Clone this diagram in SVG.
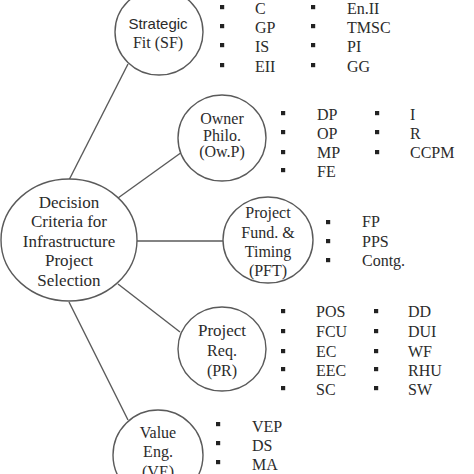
<svg xmlns="http://www.w3.org/2000/svg" width="474" height="474" viewBox="0 0 474 474">
<style>
.node ellipse{fill:#fff;stroke:#5a5a5a;stroke-width:1.4}
.lbl{font-family:"Liberation Serif","Times New Roman",serif;font-size:16px;fill:#2b2b2b;text-anchor:middle}
.big{font-size:17px}
.sans{font-family:"Liberation Sans",Arial,sans-serif;font-size:15px}
.it{font-family:"Liberation Serif","Times New Roman",serif;font-size:16px;fill:#2b2b2b}
.b{fill:#222}
#connectors line{stroke:#5a5a5a;stroke-width:1.4}
</style>
<defs>
<rect id="sq" x="-2" y="-2" width="4.2" height="4.2" class="b"/>
</defs>
<rect width="474" height="474" fill="#fff"/>
<g id="connectors">
<line x1="69" y1="180" x2="128" y2="64"/>
<line x1="118" y1="198" x2="182" y2="152"/>
<line x1="137" y1="241" x2="223" y2="241"/>
<line x1="118" y1="284" x2="180" y2="332"/>
<line x1="69" y1="302" x2="128" y2="420"/>
</g>
<g id="dc" class="node">
<ellipse cx="69" cy="240" rx="68" ry="61"/>
<text class="lbl big" x="69" y="208">Decision</text>
<text class="lbl big" x="69" y="227">Criteria for</text>
<text class="lbl big" x="69" y="246.5">Infrastructure</text>
<text class="lbl big" x="69" y="266">Project</text>
<text class="lbl big" x="69" y="285.5">Selection</text>
</g>
<g id="sf" class="node">
<ellipse cx="159" cy="32" rx="44" ry="43"/>
<text class="lbl sans" x="158" y="29">Strategic</text>
<text class="lbl" x="158" y="48">Fit (SF)</text>
</g>
<g id="sf-items">
<use href="#sq" x="222" y="7"/><text class="it" x="255" y="13.5">C</text>
<use href="#sq" x="222" y="26"/><text class="it" x="255" y="33">GP</text>
<use href="#sq" x="222" y="45"/><text class="it" x="255" y="52">IS</text>
<use href="#sq" x="222" y="65"/><text class="it" x="255" y="72">EII</text>
<use href="#sq" x="313" y="7"/><text class="it" x="347" y="13.5">En.II</text>
<use href="#sq" x="313" y="26"/><text class="it" x="347" y="33">TMSC</text>
<use href="#sq" x="313" y="45"/><text class="it" x="347" y="52">PI</text>
<use href="#sq" x="313" y="65"/><text class="it" x="347" y="72">GG</text>
</g>
<g id="owp" class="node">
<ellipse cx="222" cy="138" rx="44" ry="43"/>
<text class="lbl" x="222" y="123.5">Owner</text>
<text class="lbl" x="222" y="140.5">Philo.</text>
<text class="lbl" x="222" y="157">(Ow.P)</text>
</g>
<g id="owp-items">
<use href="#sq" x="283" y="113"/><text class="it" x="317" y="120">DP</text>
<use href="#sq" x="283" y="132"/><text class="it" x="317" y="139">OP</text>
<use href="#sq" x="283" y="152"/><text class="it" x="317" y="158">MP</text>
<use href="#sq" x="283" y="170"/><text class="it" x="317" y="177">FE</text>
<use href="#sq" x="377" y="113"/><text class="it" x="410" y="120">I</text>
<use href="#sq" x="377" y="132"/><text class="it" x="410" y="139">R</text>
<use href="#sq" x="377" y="152"/><text class="it" x="410" y="158">CCPM</text>
</g>
<g id="pft" class="node">
<ellipse cx="268" cy="240" rx="45" ry="43"/>
<text class="lbl" x="268" y="218">Project</text>
<text class="lbl" x="268" y="238">Fund. &amp;</text>
<text class="lbl" x="268" y="257">Timing</text>
<text class="lbl" x="268" y="276">(PFT)</text>
</g>
<g id="pft-items">
<use href="#sq" x="328" y="222"/><text class="it" x="362" y="227">FP</text>
<use href="#sq" x="328" y="241"/><text class="it" x="362" y="247">PPS</text>
<use href="#sq" x="328" y="260"/><text class="it" x="362" y="266">Contg.</text>
</g>
<g id="pr" class="node">
<ellipse cx="222" cy="349" rx="44" ry="42"/>
<text class="lbl big" x="222" y="336">Project</text>
<text class="lbl" x="222" y="356">Req.</text>
<text class="lbl" x="222" y="376">(PR)</text>
</g>
<g id="pr-items">
<use href="#sq" x="283" y="311"/><text class="it" x="316" y="317">POS</text>
<use href="#sq" x="283" y="331"/><text class="it" x="316" y="337">FCU</text>
<use href="#sq" x="283" y="351"/><text class="it" x="316" y="357">EC</text>
<use href="#sq" x="283" y="369"/><text class="it" x="316" y="376">EEC</text>
<use href="#sq" x="283" y="388"/><text class="it" x="316" y="395">SC</text>
<use href="#sq" x="376" y="311"/><text class="it" x="408" y="317">DD</text>
<use href="#sq" x="376" y="331"/><text class="it" x="408" y="337">DUI</text>
<use href="#sq" x="376" y="351"/><text class="it" x="408" y="357">WF</text>
<use href="#sq" x="376" y="369"/><text class="it" x="408" y="376">RHU</text>
<use href="#sq" x="376" y="388"/><text class="it" x="408" y="395">SW</text>
</g>
<g id="ve" class="node">
<ellipse cx="158" cy="455" rx="45" ry="45"/>
<text class="lbl" x="158" y="438">Value</text>
<text class="lbl" x="158" y="457">Eng.</text>
<text class="lbl" x="158" y="477">(VE)</text>
</g>
<g id="ve-items">
<use href="#sq" x="218" y="424"/><text class="it" x="252" y="432">VEP</text>
<use href="#sq" x="218" y="443"/><text class="it" x="252" y="451">DS</text>
<use href="#sq" x="218" y="462"/><text class="it" x="252" y="470">MA</text>
</g>
</svg>
